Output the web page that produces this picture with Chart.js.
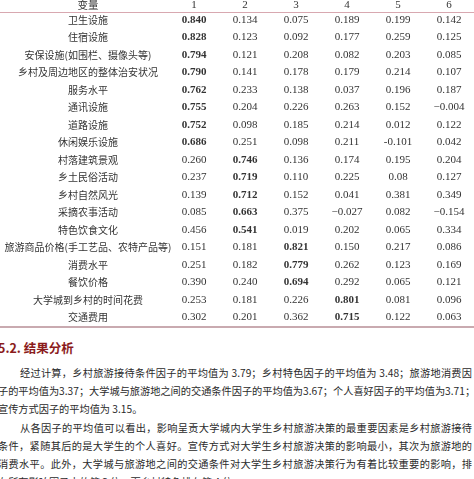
<!DOCTYPE html>
<html><head><meta charset="utf-8">
<script src="https://cdn.jsdelivr.net/npm/chart.js@4"></script>
<style>
body{margin:0;background:#fff;width:474px;height:479px;overflow:hidden;}
#wrap{position:relative;width:474px;height:336px;}
#txt{position:absolute;top:336px;left:-2px;width:474px;font-family:"Noto Sans CJK SC",serif;font-size:10.2px;color:#2a2a2a;}
#txt h3{margin:2px 0 7px 0;font-size:12.5px;color:#8b1c1c;font-weight:bold;}
.l{height:18.2px;line-height:18.2px;text-align:justify;text-align-last:justify;white-space:nowrap;overflow:hidden;}
.e{text-align-last:left;}
.i{padding-left:22px;}
</style></head>
<body>
<div id="wrap"><canvas id="c"></canvas></div>
<div id="txt">
<h3>5.2. 结果分析</h3>
<div class="l i">经过计算，乡村旅游接待条件因子的平均值为 3.79；乡村特色因子的平均值为 3.48；旅游地消费因</div>
<div class="l">子的平均值为3.37；大学城与旅游地之间的交通条件因子的平均值为3.67；个人喜好因子的平均值为3.71；</div>
<div class="l e">宣传方式因子的平均值为 3.15。</div>
<div class="l i">从各因子的平均值可以看出，影响呈贡大学城内大学生乡村旅游决策的最重要因素是乡村旅游接待</div>
<div class="l">条件，紧随其后的是大学生的个人喜好。宣传方式对大学生乡村旅游决策的影响最小，其次为旅游地的</div>
<div class="l">消费水平。此外，大学城与旅游地之间的交通条件对大学生乡村旅游决策行为有着比较重要的影响，排</div>
<div class="l e">在所有影响因子中的第 3 位，而乡村特色排在第 4 位。</div>
</div>
<script>
// Table data
const headers = ['变量', '1', '2', '3', '4', '5', '6'];
const variables = ['卫生设施', '住宿设施', '安保设施(如围栏、摄像头等)', '乡村及周边地区的整体治安状况', '服务水平', '通讯设施', '道路设施', '休闲娱乐设施', '村落建筑景观', '乡土民俗活动', '乡村自然风光', '采摘农事活动', '特色饮食文化', '旅游商品价格(手工艺品、农特产品等)', '消费水平', '餐饮价格', '大学城到乡村的时间花费', '交通费用'];
const loadings = [
    ['0.840', '0.134', '0.075', '0.189', '0.199', '0.142'],
    ['0.828', '0.123', '0.092', '0.177', '0.259', '0.125'],
    ['0.794', '0.121', '0.208', '0.082', '0.203', '0.085'],
    ['0.790', '0.141', '0.178', '0.179', '0.214', '0.107'],
    ['0.762', '0.233', '0.138', '0.037', '0.196', '0.187'],
    ['0.755', '0.204', '0.226', '0.263', '0.152', '−0.004'],
    ['0.752', '0.098', '0.185', '0.214', '0.012', '0.122'],
    ['0.686', '0.251', '0.098', '0.211', '-0.101', '0.042'],
    ['0.260', '0.746', '0.136', '0.174', '0.195', '0.204'],
    ['0.237', '0.719', '0.110', '0.225', '0.08', '0.127'],
    ['0.139', '0.712', '0.152', '0.041', '0.381', '0.349'],
    ['0.085', '0.663', '0.375', '−0.027', '0.082', '−0.154'],
    ['0.456', '0.541', '0.019', '0.202', '0.065', '0.334'],
    ['0.151', '0.181', '0.821', '0.150', '0.217', '0.086'],
    ['0.251', '0.182', '0.779', '0.262', '0.123', '0.169'],
    ['0.390', '0.240', '0.694', '0.292', '0.065', '0.121'],
    ['0.253', '0.181', '0.226', '0.801', '0.081', '0.096'],
    ['0.302', '0.201', '0.362', '0.715', '0.122', '0.063']
];
const boldCol = [0, 0, 0, 0, 0, 0, 0, 0, 1, 1, 1, 1, 1, 2, 2, 2, 3, 3];

const LABEL_X = -1.08;
const HEADER_Y = -0.85;

const tablePlugin = {
    id: 'table',
    afterDraw(chart) {
        const {ctx, scales: {x, y}} = chart;
        ctx.save();
        ctx.textAlign = 'center';
        ctx.textBaseline = 'middle';
        ctx.fillStyle = '#333';
        // header
        headers.forEach((h, i) => {
            ctx.font = i === 0 ? '10.5px "Noto Sans CJK SC"' : '11px "Liberation Serif"';
            ctx.fillText(h, x.getPixelForValue(i === 0 ? LABEL_X : i), y.getPixelForValue(HEADER_Y));
        });
        // rules
        ctx.strokeStyle = '#d8a8b0';
        ctx.lineWidth = 1;
        let yy = Math.round(y.getPixelForValue(-0.45)) + 0.5;
        ctx.beginPath(); ctx.moveTo(0, yy); ctx.lineTo(474, yy); ctx.stroke();
        ctx.strokeStyle = '#c9aab0';
        ctx.lineWidth = 2;
        yy = Math.round(y.getPixelForValue(variables.length - 0.45));
        ctx.beginPath(); ctx.moveTo(0, yy); ctx.lineTo(474, yy); ctx.stroke();
        // rows
        variables.forEach((v, r) => {
            const py = y.getPixelForValue(r);
            ctx.font = '10px "Noto Sans CJK SC"';
            ctx.fillText(v, x.getPixelForValue(LABEL_X), py);
            loadings[r].forEach((val, c) => {
                ctx.font = (c === boldCol[r] ? 'bold ' : '') + '11px "Liberation Serif"';
                ctx.fillText(val, x.getPixelForValue(c + 1), py);
            });
        });
        ctx.restore();
    }
};

new Chart(document.getElementById('c'), {
    type: 'scatter',
    data: { datasets: [{ data: [], pointRadius: 0 }] },
    options: {
        responsive: true,
        maintainAspectRatio: false,
        animation: false,
        layout: { padding: 0 },
        plugins: { legend: { display: false }, tooltip: { enabled: false } },
        scales: {
            x: { display: false, min: -2.804, max: 6.49 },
            y: { display: false, reverse: true, min: -1.143, max: 18.057 }
        }
    },
    plugins: [tablePlugin]
});
</script>
</body></html>
